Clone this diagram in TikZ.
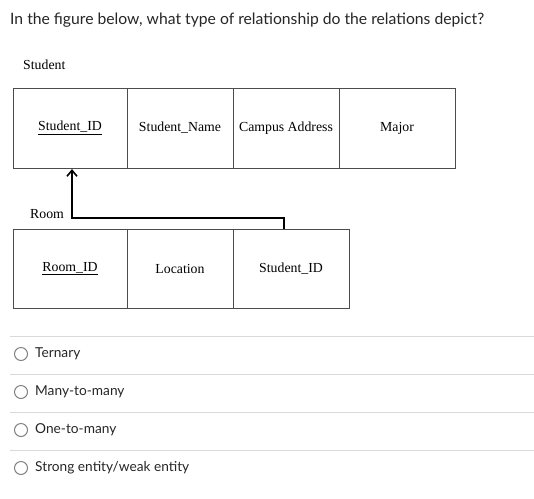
\documentclass[tikz,border=0pt]{standalone}
\usepackage{fontspec}
\usetikzlibrary{arrows.meta}
\setmainfont{Liberation Serif}
\newfontfamily\latofont{Lato}
\begin{document}
\begin{tikzpicture}[x=1pt,y=-1pt,
  cell/.style={draw=black!70, line width=0.8pt, minimum height=80pt, inner sep=0pt, outer sep=0pt, anchor=north west, font=\fontsize{13.8}{16}\selectfont},
  lbl/.style={anchor=west, inner sep=0pt, font=\fontsize{13.8}{16}\selectfont},
  qtext/.style={anchor=west, inner sep=0pt, font=\latofont\fontsize{13.7}{16}\selectfont, text=black!85},
  sep/.style={draw=black!15, line width=0.8pt},
  radio/.style={circle, draw=black!50, line width=1pt, minimum size=13pt, inner sep=0pt}]
\useasboundingbox (0,0) rectangle (534,498);
\node[anchor=west, inner sep=0pt, font=\latofont\fontsize{15.7}{18}\selectfont, text=black!85] (q) at (10,20) {In the figure below, what type of relationship do the relations depict?};
\node[lbl] (stlabel) at (23,65) {Student};
\node[cell, minimum width=114pt] (s1) at (13,88) {\underline{Student\_ID}};
\node[cell, minimum width=106pt] (s2) at (127,88) {Student\_Name};
\node[cell, minimum width=106pt] (s3) at (233,88) {Campus Address};
\node[cell, minimum width=116pt] (s4) at (339,88) {Major};
\node[lbl] (rmlabel) at (30,214) {Room};
\node[cell, minimum width=114pt, minimum height=79pt] (r1) at (13,229) {\underline{Room\_ID}};
\node[cell, minimum width=106pt, minimum height=79pt] (r2) at (127,229) {Location};
\node[cell, minimum width=116pt, minimum height=79pt] (r3) at (233,229) {Student\_ID};
\draw[line width=1.6pt, -{Straight Barb[length=6pt,width=10pt]}] ([xshift=-7pt]r3.north) -- ++(0,-11) -| ([xshift=2pt,yshift=-1pt]s1.south);
\draw[sep] (10,336) -- (534,336);
\draw[sep] (10,374) -- (534,374);
\draw[sep] (10,412) -- (534,412);
\draw[sep] (10,450) -- (534,450);
\node[radio] (c1) at (21,354) {};
\node[radio] (c2) at (21,392) {};
\node[radio] (c3) at (21,430) {};
\node[radio] (c4) at (21,468) {};
\node[qtext] (a1) at (35,354) {Ternary};
\node[qtext] (a2) at (35,392) {Many-to-many};
\node[qtext] (a3) at (35,430) {One-to-many};
\node[qtext] (a4) at (35,468) {Strong entity/weak entity};
\end{tikzpicture}
\end{document}
